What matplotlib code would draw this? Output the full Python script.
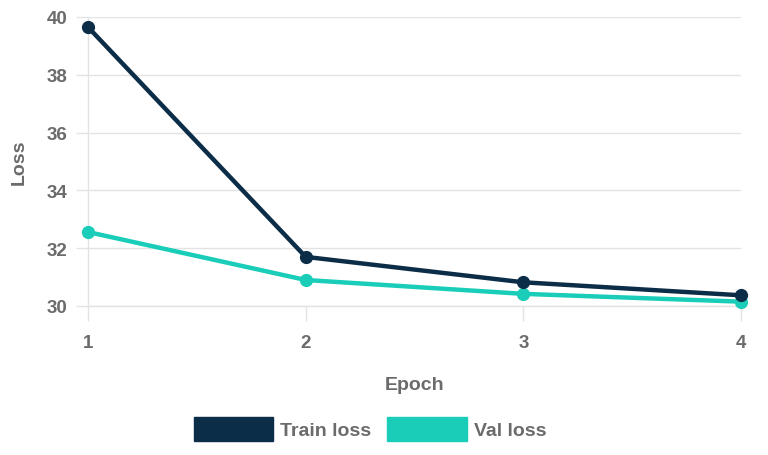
import matplotlib
matplotlib.use("Agg")
import matplotlib.pyplot as plt
from matplotlib.patches import Patch

epochs = [1, 2, 3, 4]
train_loss = [39.65, 31.7, 30.82, 30.37]
val_loss = [32.56, 30.9, 30.42, 30.15]
y_ticks = [30, 32, 34, 36, 38, 40]
train_color = "#0c2d48"
val_color = "#19cdb9"
grid_color = "#e3e3e3"
text_color = "#6b6b6b"

plt.rcParams['font.family'] = ['Liberation Sans', 'DejaVu Sans']

fig = plt.figure(figsize=(7.68, 4.56), dpi=100)
ax = fig.add_axes([88/768, 1-307/456, (741-88)/768, (307-18)/456])

ax.plot(epochs, train_loss, color=train_color, lw=3.2, marker='o', ms=8.5, clip_on=False, zorder=4)
ax.plot(epochs, val_loss, color=val_color, lw=3.2, marker='o', ms=8.5, clip_on=False, zorder=3)

ax.set_xlim(1, 4)
ax.set_ylim(30, 40)
ax.set_xticks(epochs)
ax.set_yticks(y_ticks)
ax.grid(axis='y', color=grid_color, lw=1)
ax.set_axisbelow(True)
for s in ['top', 'right']:
    ax.spines[s].set_visible(False)
for s in ['left', 'bottom']:
    ax.spines[s].set_color(grid_color)
    ax.spines[s].set_linewidth(1)
ax.tick_params(axis='x', length=11, width=1, color=grid_color, pad=9, labelsize=13.5, labelcolor=text_color)
ax.tick_params(axis='y', length=9, width=1, color=grid_color, pad=6, labelsize=13.5, labelcolor=text_color)
for lab in ax.get_xticklabels() + ax.get_yticklabels():
    lab.set_fontweight('bold')

ax.set_xlabel('Epoch', fontsize=14, color=text_color, fontweight='bold', labelpad=18)
ax.set_ylabel('Loss', fontsize=14, color=text_color, fontweight='bold', labelpad=13)

handles = [Patch(facecolor=train_color, edgecolor=train_color, label='Train loss'),
           Patch(facecolor=val_color, edgecolor=val_color, label='Val loss')]
leg = fig.legend(handles=handles, loc='center', bbox_to_anchor=(370/768, 1-430/456),
                 ncol=2, frameon=False, prop={'size': 14, 'weight': 'bold'},
                 handlelength=4.1, handleheight=1.6,
                 handletextpad=0.36, columnspacing=0.8)
for t in leg.get_texts():
    t.set_color(text_color)

fig.savefig('out.png', dpi=100)
